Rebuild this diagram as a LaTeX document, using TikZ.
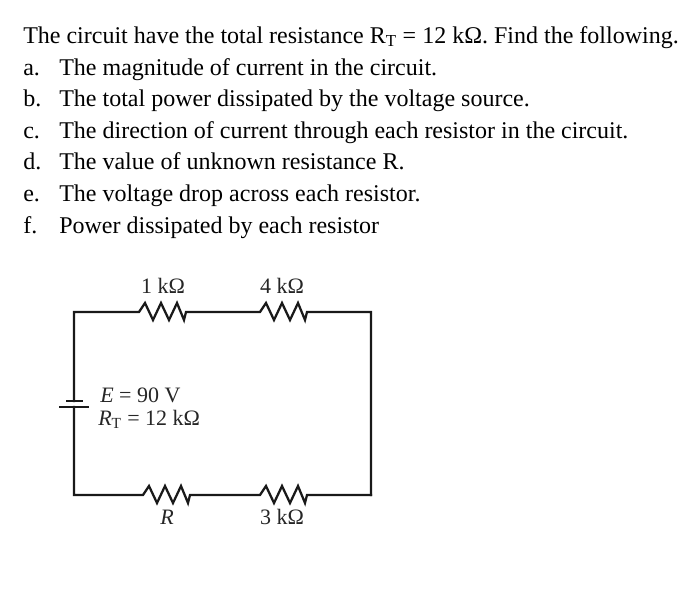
\documentclass[tikz,border=0pt]{standalone}
\usepackage{fontspec}
\setmainfont{Liberation Serif}
\tikzset{
	question/.style={anchor=base west,inner sep=0pt,font=\fontsize{18}{21}\selectfont},
	value/.style={anchor=base,inner sep=0pt,font=\fontsize{16.5}{19}\selectfont,text=black!85},
	wire/.style={line width=1.7pt,black!90,line join=miter,line cap=rect},
	plate/.style={line width=1.7pt,black!90}
}
\newcommand{\zigzag}{-- ++(6,-9) -- ++(8,17) -- ++(8,-17) -- ++(8,17) -- ++(8,-17) -- ++(7,17) -- ++(2,-8)}
\begin{document}
\begin{tikzpicture}[x=0.75pt,y=-0.75pt]
	\useasboundingbox (0,0) rectangle (698,590);
	% text
	\node[question] (title) at (23,43) {The circuit have the total resistance R\textsubscript{T} = 12 kΩ. Find the following.};
	\node[question] (la) at (23,75) {a.};
	\node[question] (ta) at (59,75) {The magnitude of current in the circuit.};
	\node[question] (lb) at (23,106) {b.};
	\node[question] (tb) at (59,106) {The total power dissipated by the voltage source.};
	\node[question] (lc) at (23,138) {c.};
	\node[question] (tc) at (59,138) {The direction of current through each resistor in the circuit.};
	\node[question] (ld) at (23,169) {d.};
	\node[question] (td) at (59,169) {The value of unknown resistance R.};
	\node[question] (le) at (23,201) {e.};
	\node[question] (te) at (59,201) {The voltage drop across each resistor.};
	\node[question] (lf) at (23,233) {f.};
	\node[question] (tf) at (59,233) {Power dissipated by each resistor};
	% corners
	\coordinate (tl) at (74,312);
	\coordinate (tr) at (371,312);
	\coordinate (br) at (371,495);
	\coordinate (bl) at (74,495);
	% resistor ends
	\coordinate (ra) at (139,312);
	\coordinate (rc) at (260,312);
	\coordinate (re) at (143,495);
	\coordinate (rg) at (260,495);
	% battery
	\coordinate (bs) at (74,401);
	\coordinate (bg) at (74,407);
	\coordinate (ss) at (66,401);
	\coordinate (se) at (83,401);
	\coordinate (gs) at (59,407);
	\coordinate (ge) at (89,407);
	% wires
	\draw[wire] (bs) -- (tl) -- (ra) \zigzag -- (rc) \zigzag -- (tr) -- (br);
	\draw[wire] (bg) -- (bl) -- (re) \zigzag -- (rg) \zigzag -- (br);
	\draw[plate] (ss) -- (se);
	\draw[plate] (gs) -- (ge);
	% labels
	\node[value] (one) at (163,293) {1 kΩ};
	\node[value] (four) at (282,293) {4 kΩ};
	\node[value] (unk) at (167,524) {\textit{R}};
	\node[value] (three) at (282,524) {3 kΩ};
	\node[value,anchor=base west] (emf) at (100,402) {\textit{E} = 90 V};
	\node[value,anchor=base west] (tot) at (98,425) {\textit{R}\textsubscript{T} = 12 kΩ};
\end{tikzpicture}
\end{document}
